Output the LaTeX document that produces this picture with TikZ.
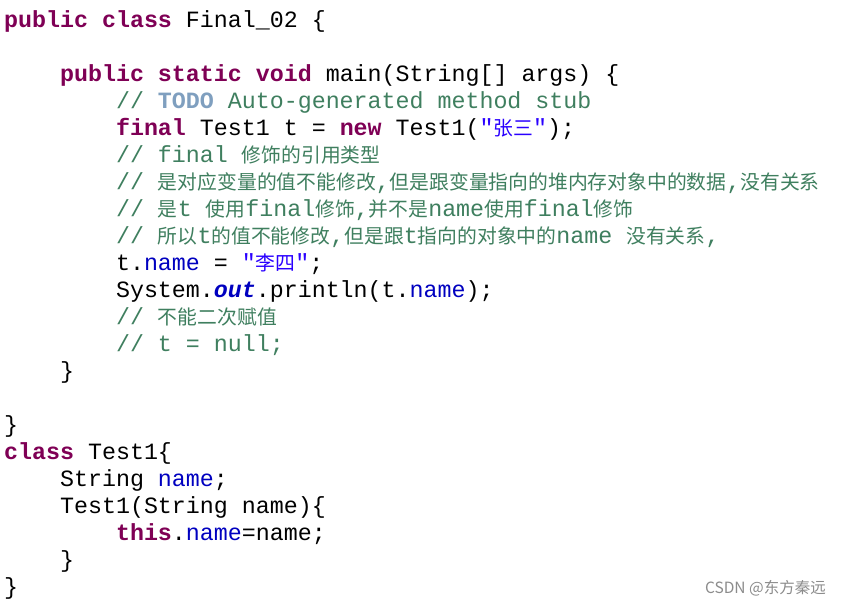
\documentclass[tikz,border=0pt]{standalone}
\usepackage{fontspec}
\setmonofont{Liberation Mono}
\newfontfamily\cjk[Scale=0.85]{Noto Sans CJK SC}
\newfontfamily\wmfont{Noto Sans CJK SC}
\definecolor{kw}{HTML}{7F0055}
\definecolor{cm}{HTML}{3F7F5F}
\definecolor{td}{HTML}{7F9FBF}
\definecolor{st}{HTML}{2A00FF}
\definecolor{fd}{HTML}{0000C0}
\newcommand\kw[1]{{\bfseries\color{kw}#1}}
\newcommand\fd[1]{{\color{fd}#1}}
\newcommand\cj[1]{{\cjk #1}}
\newcommand\cl[3]{\node[code] (L#2) at ({4+13.98*#1},{607-28-27*#2}) {#3};}
\begin{document}
\begin{tikzpicture}[x=1pt,y=1pt,
  code/.style={anchor=base west,inner sep=0pt,font=\ttfamily\fontsize{23.3}{27}\selectfont,text=black}]
\useasboundingbox[fill=white] (0,0) rectangle (841,607);
\cl{0}{0}{\kw{public} \kw{class} Final\_02 \{}
\cl{4}{2}{\kw{public} \kw{static} \kw{void} main(String[] args) \{}
\cl{8}{3}{{\color{cm}// {\bfseries\color{td}TODO} Auto-generated method stub}}
\cl{8}{4}{\kw{final} Test1 t = \kw{new} Test1({\color{st}"\cj{张三}"});}
\cl{8}{5}{{\color{cm}// final \cj{修饰的引用类型}}}
\cl{8}{6}{{\color{cm}// \cj{是对应变量的值不能修改},\cj{但是跟变量指向的堆内存对象中的数据},\cj{没有关系}}}
\cl{8}{7}{{\color{cm}// \cj{是}t \cj{使用}final\cj{修饰},\cj{并不是}name\cj{使用}final\cj{修饰}}}
\cl{8}{8}{{\color{cm}// \cj{所以}t\cj{的值不能修改},\cj{但是跟}t\cj{指向的对象中的}name \cj{没有关系},}}
\cl{8}{9}{t.\fd{name} = {\color{st}"\cj{李四}"};}
\cl{8}{10}{System.{\bfseries\itshape\color{fd}out}.println(t.\fd{name});}
\cl{8}{11}{{\color{cm}// \cj{不能二次赋值}}}
\cl{8}{12}{{\color{cm}// t = null;}}
\cl{4}{13}{\}}
\cl{0}{15}{\}}
\cl{0}{16}{\kw{class} Test1\{}
\cl{4}{17}{String \fd{name};}
\cl{4}{18}{Test1(String name)\{}
\cl{8}{19}{\kw{this}.\fd{name}=name;}
\cl{4}{20}{\}}
\cl{0}{21}{\}}
\node[anchor=base east,inner sep=0pt,font=\wmfont\fontsize{15.5}{18}\selectfont,text=black!45] (wm) at (826,13) {CSDN @东方秦远};
\end{tikzpicture}
\end{document}
